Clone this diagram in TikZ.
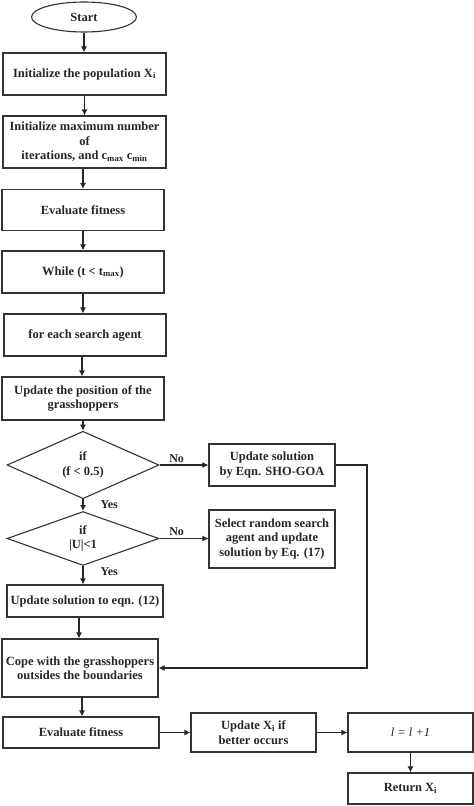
\documentclass[tikz,border=0pt]{standalone}
\usepackage{fontspec}
\setmainfont{Liberation Serif}
\usetikzlibrary{shapes.geometric,arrows.meta}
\begin{document}
\begin{tikzpicture}[x=1bp,y=-1bp,
  every node/.style={font=\fontsize{12.5bp}{14.5bp}\selectfont\bfseries, text=black!85, align=center, inner sep=1bp},
  box/.style={draw=black!80, line width=1.1bp, rectangle},
  dec/.style={draw=black!80, line width=1.1bp, diamond, inner sep=0pt},
  conn/.style={draw=black!85, line width=1.1bp, -{Latex[length=6bp,width=6bp]}},
  lab/.style={font=\fontsize{12bp}{14bp}\selectfont\bfseries}]
\useasboundingbox (0,0) rectangle (474,806);
\node[draw=black!80, line width=1.1bp, ellipse, minimum width=105bp, minimum height=30bp] (start) at (84,17) {Start};
\node[box, minimum width=163bp, minimum height=42bp] (init) at (84.5,74) {Initialize the population X\textsubscript{i}};
\node[box, minimum width=163bp, minimum height=52bp] (initmax) at (84.5,142) {Initialize maximum number\\of\\iterations, and c\textsubscript{max} c\textsubscript{min}};
\node[box, minimum width=162bp, minimum height=41bp] (eval) at (83,210) {Evaluate fitness};
\node[box, minimum width=162bp, minimum height=42bp] (while) at (83,272) {While (t < t\textsubscript{max})};
\node[box, minimum width=162bp, minimum height=42bp] (foreach) at (85,335) {for each search agent};
\node[box, minimum width=162bp, minimum height=43bp] (updpos) at (83,398.5) {Update the position of the\\grasshoppers};
\node[dec, minimum width=152bp, minimum height=52bp] (d1) at (83,465) {if\\(f < 0.5)};
\node[box, minimum width=126bp, minimum height=42bp] (sho) at (272,465) {Update solution\\by Eqn. SHO-GOA};
\node[dec, minimum width=152bp, minimum height=51bp] (d2) at (83,538.5) {if\\|U|<1};
\node[box, minimum width=126bp, minimum height=58bp] (sel) at (272,539) {Select random search\\agent and update\\solution by Eq. (17)};
\node[box, minimum width=156bp, minimum height=32bp] (eq12) at (85,601) {Update solution to eqn. (12)};
\node[box, minimum width=156bp, minimum height=58bp] (cope) at (80,668) {Cope with the grasshoppers\\outsides the boundaries};
\node[box, minimum width=156bp, minimum height=31bp] (eval2) at (81,732.5) {Evaluate fitness};
\node[box, minimum width=125bp, minimum height=39bp] (updx) at (253.5,732.5) {Update X\textsubscript{i} if\\better occurs};
\node[box, minimum width=125bp, minimum height=39bp, font=\fontsize{12.5bp}{14.5bp}\selectfont\itshape] (inc) at (410.5,732.5) {l = l +1};
\node[box, minimum width=125bp, minimum height=31bp] (ret) at (410.5,788.5) {Return X\textsubscript{i}};
\coordinate (c1) at (367,465);
\coordinate (c2) at (367,668);
\draw[conn] (start.south) -- (start.south |- init.north);
\draw[conn] (init.south) -- (init.south |- initmax.north);
\draw[conn] (initmax.south -| eval.north) -- (eval.north);
\draw[conn] (eval.south) -- (eval.south |- while.north);
\draw[conn] (while.south) -- (while.south |- foreach.north);
\draw[conn] (foreach.south -| 82,0) -- (updpos.north -| 82,0);
\draw[conn] (updpos.south -| d1.north) -- (d1.north);
\draw[conn] (d1.south) -- node[lab, right=16bp, pos=0.45] (yes1) {Yes} (d2.north);
\draw[conn] (d2.south) -- node[lab, right=16bp, pos=0.3] (yes2) {Yes} (d2.south |- eq12.north);
\draw[conn] (d1.east) -- node[lab, above=1bp, pos=0.35] (no1) {No} (sho.west);
\draw[conn] (d2.east) -- node[lab, above=1bp, pos=0.35] (no2) {No} (d2.east -| sel.west);
\draw[conn] (eq12.south -| 79,0) -- (cope.north -| 79,0);
\draw[conn] (cope.south -| 82,0) -- (eval2.north -| 82,0);
\draw[conn] (sho.east) -- (c1) -- (c2) -- (cope.east);
\draw[conn] (eval2.east) -- (updx.west |- eval2.east);
\draw[conn] (updx.east) -- (inc.west);
\draw[conn] (inc.south) -- (ret.north);
\end{tikzpicture}
\end{document}
